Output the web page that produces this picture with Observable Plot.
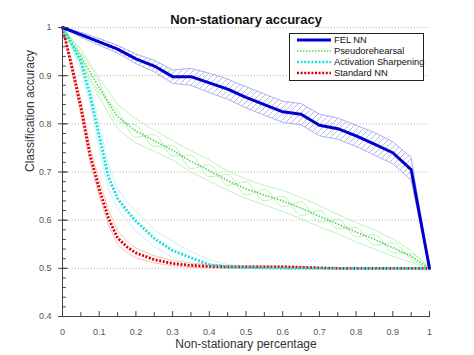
<!DOCTYPE html>
<html>
<head>
<meta charset="utf-8">
<script src="https://cdn.jsdelivr.net/npm/d3@7"></script>
<script src="https://cdn.jsdelivr.net/npm/@observablehq/plot@0.6"></script>
<style>
  html, body { margin: 0; padding: 0; background: #fff; }
  #wrap { position: relative; width: 474px; height: 355px; font-family: "Liberation Sans", Arial, sans-serif; }
  #legend { position: absolute; left: 289px; top: 33px; width: 135px; height: 48px; box-sizing: border-box;
            border: 1.3px solid #222; background: #fff; padding-top: 1px; }
  .row { display: flex; align-items: center; height: 10.8px; font-size: 9.3px; color: #111; white-space: nowrap; }
  .row svg { margin-left: 7px; margin-right: 3px; flex: none; }
</style>
</head>
<body>
<div id="wrap"><div id="legend"></div></div>
<script>
// ---- Data ----
const xCoarse = [0, 0.05, 0.1, 0.15, 0.2, 0.25, 0.3, 0.35, 0.4, 0.45, 0.5, 0.55, 0.6, 0.65, 0.7, 0.75, 0.8, 0.85, 0.9, 0.95, 1];
const xFine = [0, 0.025, 0.05, 0.075, 0.1, 0.125, 0.15, 0.175, 0.2, 0.25, 0.3, 0.35, 0.4, 0.45, 0.5, 0.55, 0.6, 0.65, 0.7, 0.75, 0.8, 0.85, 0.9, 0.95, 1];

const felMean = [1.0, 0.985, 0.97, 0.955, 0.935, 0.92, 0.898, 0.898, 0.885, 0.872, 0.855, 0.84, 0.825, 0.82, 0.797, 0.79, 0.775, 0.758, 0.74, 0.705, 0.5];
const felHi   = [1.0, 0.99, 0.977, 0.963, 0.945, 0.932, 0.912, 0.915, 0.905, 0.893, 0.877, 0.862, 0.847, 0.842, 0.82, 0.812, 0.797, 0.782, 0.763, 0.73, 0.5];
const felLo   = [1.0, 0.98, 0.963, 0.947, 0.925, 0.908, 0.884, 0.88, 0.865, 0.851, 0.833, 0.818, 0.803, 0.798, 0.775, 0.768, 0.753, 0.735, 0.717, 0.683, 0.5];

const pseudoMean = [1.0, 0.94, 0.875, 0.815, 0.785, 0.765, 0.745, 0.722, 0.703, 0.682, 0.665, 0.652, 0.64, 0.625, 0.608, 0.592, 0.575, 0.56, 0.543, 0.525, 0.5];
const pseudoHi   = [1.0, 0.955, 0.895, 0.84, 0.81, 0.787, 0.765, 0.744, 0.725, 0.702, 0.685, 0.672, 0.662, 0.647, 0.63, 0.612, 0.595, 0.58, 0.561, 0.537, 0.5];
const pseudoLo   = [1.0, 0.925, 0.855, 0.79, 0.76, 0.743, 0.725, 0.7, 0.681, 0.662, 0.645, 0.632, 0.618, 0.603, 0.586, 0.572, 0.555, 0.54, 0.525, 0.513, 0.5];
const pseudoRunA = [1.0, 0.948, 0.887, 0.805, 0.797, 0.753, 0.755, 0.707, 0.715, 0.672, 0.68, 0.64, 0.65, 0.61, 0.62, 0.582, 0.585, 0.548, 0.553, 0.52, 0.5];
const pseudoRunB = [1.0, 0.932, 0.865, 0.828, 0.772, 0.778, 0.733, 0.735, 0.69, 0.695, 0.652, 0.664, 0.628, 0.638, 0.596, 0.602, 0.566, 0.57, 0.533, 0.53, 0.5];

const sharpMean = [1.0, 0.965, 0.93, 0.86, 0.775, 0.69, 0.645, 0.62, 0.598, 0.562, 0.537, 0.522, 0.508, 0.503, 0.502, 0.501, 0.5, 0.5, 0.5, 0.5, 0.5, 0.5, 0.5, 0.5, 0.5];
const sharpHi   = [1.0, 0.975, 0.945, 0.88, 0.8, 0.715, 0.665, 0.64, 0.618, 0.58, 0.555, 0.535, 0.518, 0.508, 0.504, 0.502, 0.501, 0.5, 0.5, 0.5, 0.5, 0.5, 0.5, 0.5, 0.5];
const sharpLo   = [1.0, 0.955, 0.915, 0.84, 0.75, 0.665, 0.625, 0.6, 0.578, 0.545, 0.522, 0.51, 0.502, 0.5, 0.5, 0.5, 0.5, 0.5, 0.5, 0.5, 0.5, 0.5, 0.5, 0.5, 0.5];

const stdMean = [1.0, 0.92, 0.835, 0.735, 0.665, 0.605, 0.563, 0.545, 0.532, 0.518, 0.51, 0.506, 0.504, 0.503, 0.503, 0.503, 0.503, 0.502, 0.501, 0.5, 0.5, 0.5, 0.5, 0.5, 0.5];
const stdHi   = [1.0, 0.93, 0.85, 0.752, 0.682, 0.622, 0.578, 0.557, 0.542, 0.526, 0.516, 0.511, 0.508, 0.506, 0.505, 0.505, 0.505, 0.504, 0.502, 0.501, 0.5, 0.5, 0.5, 0.5, 0.5];
const stdLo   = [1.0, 0.91, 0.82, 0.72, 0.65, 0.59, 0.55, 0.533, 0.522, 0.511, 0.505, 0.502, 0.501, 0.5, 0.5, 0.5, 0.5, 0.5, 0.5, 0.5, 0.5, 0.5, 0.5, 0.5, 0.5];

const seriesNames = ["FEL NN", "Pseudorehearsal", "Activation Sharpening", "Standard NN"];
const yTicks = [0.4, 0.5, 0.6, 0.7, 0.8, 0.9, 1];
const yMinor = d3.range(0.42, 1, 0.02);
const xTicks = [0, 0.1, 0.2, 0.3, 0.4, 0.5, 0.6, 0.7, 0.8, 0.9, 1];
const xMinor = d3.range(0.05, 1, 0.1);
const gridLevels = [0.5, 0.6, 0.7, 0.8, 0.9, 1];

// ---- Tables ----
const fel = xCoarse.map((x, i) => ({x, y: felMean[i], hi: felHi[i], lo: felLo[i]}));
const pseudo = xCoarse.map((x, i) => ({x, y: pseudoMean[i], hi: pseudoHi[i], lo: pseudoLo[i], a: pseudoRunA[i], b: pseudoRunB[i]}));
const sharp = xFine.map((x, i) => ({x, y: sharpMean[i], hi: sharpHi[i], lo: sharpLo[i]}));
const std = xFine.map((x, i) => ({x, y: stdMean[i], hi: stdHi[i], lo: stdLo[i]}));

const C = {
  fel: "#0000cc", felBand: "#9a9af4",
  pseudo: "#4fd64f", pseudoBand: "#aaf0aa",
  sharp: "#1fdcdc", sharpBand: "#aef3f3",
  std: "#dd0000", stdBand: "#f7b0b0"
};
const fmt = d => d3.format("~g")(d);
const tickShape = {draw(context, l) { context.moveTo(0, 0); context.lineTo(0, -l); }};
const dotted = {strokeLinecap: "butt", strokeLinejoin: "miter"};

const chart = Plot.plot({
  width: 474, height: 355,
  marginTop: 27, marginRight: 45, marginBottom: 39, marginLeft: 62,
  x: {domain: [0, 1]},
  y: {domain: [0.4, 1]},
  style: {fontFamily: "Liberation Sans, Arial, sans-serif", fontSize: "9px", background: "white", color: "#555"},
  marks: [
    Plot.gridY(gridLevels, {stroke: "#999", strokeOpacity: 1, strokeWidth: 0.8, strokeDasharray: "1,2.2"}),
    // Pseudorehearsal band lines
    Plot.line(pseudo, {x: "x", y: "hi", stroke: C.pseudoBand, strokeWidth: 0.8}),
    Plot.line(pseudo, {x: "x", y: "lo", stroke: C.pseudoBand, strokeWidth: 0.8}),
    Plot.line(pseudo, {x: "x", y: "a", stroke: C.pseudoBand, strokeWidth: 0.8, curve: "monotone-x"}),
    Plot.line(pseudo, {x: "x", y: "b", stroke: C.pseudoBand, strokeWidth: 0.8, curve: "monotone-x"}),
    // Standard NN band
    Plot.line(std, {x: "x", y: "hi", stroke: C.stdBand, strokeWidth: 0.8}),
    Plot.line(std, {x: "x", y: "lo", stroke: C.stdBand, strokeWidth: 0.8}),
    // Activation sharpening band
    Plot.line(sharp, {x: "x", y: "hi", stroke: C.sharpBand, strokeWidth: 0.8}),
    Plot.line(sharp, {x: "x", y: "lo", stroke: C.sharpBand, strokeWidth: 0.8}),
    // FEL hatched band
    Plot.areaY(fel, {x: "x", y1: "lo", y2: "hi", fill: "url(#felHatch)"}),
    Plot.line(fel, {x: "x", y: "hi", stroke: C.felBand, strokeWidth: 0.8}),
    Plot.line(fel, {x: "x", y: "lo", stroke: C.felBand, strokeWidth: 0.8}),
    // Means
    Plot.line(pseudo, {x: "x", y: "y", stroke: C.pseudo, strokeWidth: 1.6, strokeDasharray: "1.5,1.5", ...dotted}),
    Plot.line(std, {x: "x", y: "y", stroke: C.std, strokeWidth: 2.8, strokeDasharray: "2,1.6", ...dotted}),
    Plot.line(sharp, {x: "x", y: "y", stroke: C.sharp, strokeWidth: 2.8, strokeDasharray: "2,1.6", ...dotted}),
    Plot.line(fel, {x: "x", y: "y", stroke: C.fel, strokeWidth: 3}),
    // Axes lines
    Plot.ruleX([0], {stroke: "#444", strokeWidth: 1}),
    Plot.ruleY([0.4], {stroke: "#444", strokeWidth: 1}),
    // Ticks (inward)
    Plot.vector(xTicks, {x: d => d, y: 0.4, length: 5, rotate: 0, anchor: "start", shape: tickShape, stroke: "#444", strokeWidth: 1}),
    Plot.vector(xMinor, {x: d => d, y: 0.4, length: 4, rotate: 0, anchor: "start", shape: tickShape, stroke: "#444", strokeWidth: 1}),
    Plot.vector(yTicks, {x: 0, y: d => d, length: 5, rotate: 90, anchor: "start", shape: tickShape, stroke: "#444", strokeWidth: 1}),
    Plot.vector(yTicks, {x: 0, y: d => d, length: 4, rotate: -90, anchor: "start", shape: tickShape, stroke: "#444", strokeWidth: 1}),
    Plot.vector(yMinor, {x: 0, y: d => d, length: 3, rotate: 90, anchor: "start", shape: tickShape, stroke: "#444", strokeWidth: 1}),
    // Tick labels
    Plot.axisY(yTicks, {anchor: "left", tickSize: 0, tickPadding: 11, tickFormat: fmt, fill: "#555", label: null}),
    Plot.axisX(xTicks, {anchor: "bottom", tickSize: 0, tickPadding: 12, tickFormat: fmt, fill: "#555", label: null}),
    // Titles
    Plot.text(["Non-stationary accuracy"], {frameAnchor: "top", dy: -13, fontWeight: "bold", fontSize: 13, fill: "#111"}),
    Plot.text(["Non-stationary percentage"], {frameAnchor: "bottom", dy: 31, fontSize: 12, fill: "#333"}),
    Plot.text(["Classification accuracy"], {frameAnchor: "left", dx: -32, rotate: -90, fontSize: 12, fill: "#333"})
  ]
});

const svg = chart.tagName.toLowerCase() === "svg" ? chart : chart.querySelector("svg");
const ns = "http://www.w3.org/2000/svg";
const defs = document.createElementNS(ns, "defs");
defs.innerHTML = `<pattern id="felHatch" patternUnits="userSpaceOnUse" width="6" height="6">
  <path d="M-1,1 L1,-1 M0,6 L6,0 M5,7 L7,5" stroke="${C.felBand}" stroke-width="0.7"/></pattern>`;
svg.insertBefore(defs, svg.firstChild);
document.getElementById("wrap").insertBefore(chart, document.getElementById("legend"));

// ---- Legend ----
const legendStyles = [
  {color: C.fel, width: 3, dash: null},
  {color: C.pseudo, width: 1.6, dash: "1.5,1.5"},
  {color: C.sharp, width: 2.6, dash: "2,1.6"},
  {color: C.std, width: 2.6, dash: "2,1.6"}
];
const legend = document.getElementById("legend");
seriesNames.forEach((name, i) => {
  const s = legendStyles[i];
  const row = document.createElement("div");
  row.className = "row";
  row.innerHTML = `<svg width="34" height="8"><line x1="0" x2="34" y1="4" y2="4" stroke="${s.color}" stroke-width="${s.width}" ${s.dash ? `stroke-dasharray="${s.dash}"` : ""}/></svg><span>${name}</span>`;
  legend.appendChild(row);
});
</script>
</body>
</html>
